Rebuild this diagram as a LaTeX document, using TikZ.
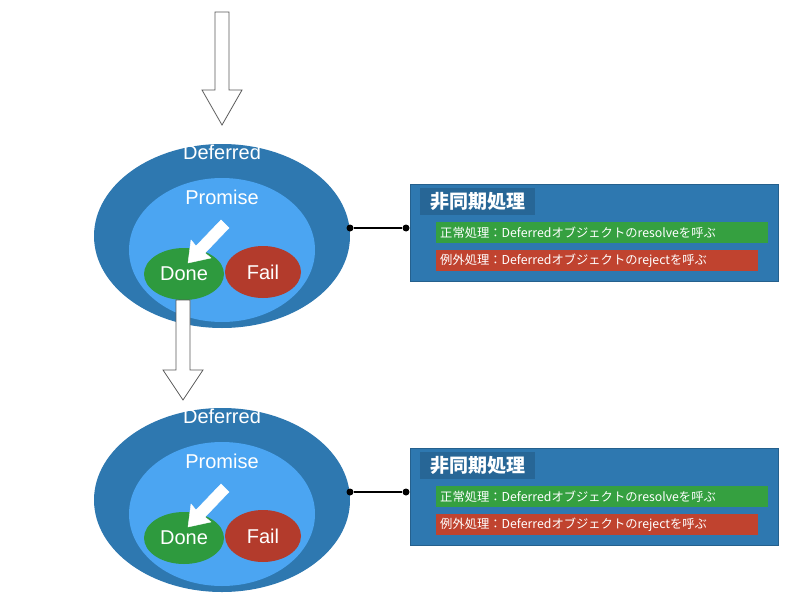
\documentclass[tikz,border=0pt]{standalone}
\usetikzlibrary{shapes.geometric}
\usepackage{fontspec}
\setmainfont{Liberation Sans}
\newfontfamily\cjk{Noto Sans CJK JP}
\begin{document}
\begin{tikzpicture}[x=1pt,y=-1pt,
  outer/.style={ellipse,fill=defblue,minimum width=256pt,minimum height=184pt,inner sep=0},
  inner/.style={ellipse,fill=prblue,minimum width=186pt,minimum height=144pt,inner sep=0},
  done/.style={ellipse,fill=dgreen,minimum width=80pt,minimum height=52pt,inner sep=0,text=white,font=\fontsize{20}{20}\selectfont},
  fail/.style={ellipse,fill=fred,minimum width=76pt,minimum height=52pt,inner sep=0,text=white,font=\fontsize{20}{20}\selectfont},
  lbl/.style={text=white,font=\fontsize{20}{20}\selectfont},
  hollow/.style={draw=gray!70!black,fill=white,line width=0.8pt},
  dot/.style={circle,fill=black,inner sep=0,minimum size=7pt},
  box/.style={fill=defblue,draw=defblue!80!black,minimum width=368pt,minimum height=97pt,inner sep=0,anchor=north west},
  title/.style={fill=defblue!85!black,text=white,font=\cjk\bfseries\fontsize{19}{19}\selectfont,minimum width=115pt,minimum height=27pt,inner sep=0,anchor=north west},
  item/.style={text=white,font=\cjk\fontsize{12.3}{12.3}\selectfont,minimum height=21pt,inner sep=0,inner xsep=4pt,anchor=north west,align=left}
]
\definecolor{defblue}{HTML}{2E78B0}
\definecolor{prblue}{HTML}{4BA5F2}
\definecolor{dgreen}{HTML}{2E9A3E}
\definecolor{fred}{HTML}{B33B2C}
\definecolor{igreen}{HTML}{35A040}
\definecolor{ired}{HTML}{C0432F}
\useasboundingbox (0,0) rectangle (800,594);
% top input arrow
\draw[hollow] (215,12) -- (229,12) -- (229,90) -- (242,90) -- (222,125) -- (202,90) -- (215,90) -- cycle;
\foreach \i/\dy in {1/0,2/264}{
  \begin{scope}[yshift=-\dy]
  \node[outer] (def\i) at (222,236) {};
  \node[inner] (pr\i) at (222,250) {};
  \node[lbl] (dt\i) at (222,152) {Deferred};
  \node[lbl] (pt\i) at (222,197) {Promise};
  \node[done] (done\i) at (184,274) {Done};
  \node[fail] (fail\i) at (263,272) {Fail};
  \draw[fill=white,draw=white] (229,228) -- (221,220) -- (196,246) -- (191,240) -- (188,263) -- (211,258) -- (205,253) -- cycle;
  \node[dot] (d1\i) at (350,228) {};
  \node[dot] (d2\i) at (406,228) {};
  \draw[line width=1.2pt] (d1\i) -- (d2\i);
  \node[box] (box\i) at (410,184) {};
  \node[title] (ti\i) at (420,188) {非同期処理};
  \node[item,fill=igreen,text width=324pt] (g\i) at (436,222) {正常処理：Deferredオブジェクトのresolveを呼ぶ};
  \node[item,fill=ired,text width=314pt] (r\i) at (436,250) {例外処理：Deferredオブジェクトのrejectを呼ぶ};
  \end{scope}
}
% arrow from Done to next Deferred
\draw[hollow] (176,300) -- (190,300) -- (190,370) -- (203,370) -- (183,400) -- (163,370) -- (176,370) -- cycle;
\end{tikzpicture}
\end{document}
